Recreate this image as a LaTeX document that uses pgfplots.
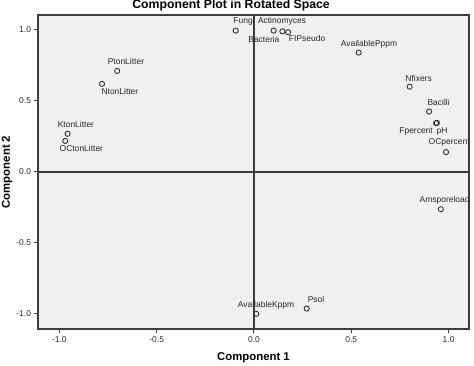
\documentclass[border=0pt]{standalone}
\usepackage{fontspec}
\setmainfont{Liberation Sans}
\usepackage{pgfplots}
\pgfplotsset{compat=1.18}
\definecolor{bgfill}{RGB}{240,240,240}
\definecolor{framec}{RGB}{60,60,60}
\definecolor{txtc}{RGB}{40,40,40}
\newcommand{\lab}{\fontsize{8.5}{10}\selectfont}
\begin{document}
\begin{tikzpicture}
\useasboundingbox (-38bp,-37bp) rectangle (436bp,329bp);
\begin{axis}[
  at={(0,0)}, anchor=south west,
  scale only axis, width=431bp, height=314bp,
  xmin=-1.11, xmax=1.105, ymin=-1.107, ymax=1.105,
  axis background/.style={fill=bgfill},
  axis line style={framec, line width=1.3bp},
  xtick={-1,-0.5,0,0.5,1}, ytick={-1,-0.5,0,0.5,1},
  tick pos=left, tick align=outside,
  major tick length=3.5bp,
  tick style={framec, line width=1bp},
  /pgf/number format/assume math mode=true,
  /pgf/number format/fixed, /pgf/number format/fixed zerofill,
  /pgf/number format/precision=1,
  ticklabel style={font=\lab, text=txtc},
  xticklabel style={yshift=-1bp},
  clip=false,
]
\addplot[framec, line width=1.3bp, forget plot] coordinates {(0,-1.107) (0,1.105)};
\addplot[framec, line width=1.3bp, forget plot] coordinates {(-1.11,0) (1.105,0)};
\addplot[only marks, mark=o, mark size=2.6pt, mark options={draw=black!80, line width=0.9bp}] coordinates {
(-0.094,0.995) (0.101,0.995) (0.146,0.990) (0.175,0.984)
(0.538,0.840) (-0.703,0.711) (-0.781,0.620) (0.800,0.600)
(0.900,0.425) (-0.958,0.268) (-0.970,0.218) (0.936,0.343)
(0.940,0.345) (0.987,0.139) (0.960,-0.263) (0.012,-1.000)
(0.271,-0.963)
};
\begin{scope}[every node/.style={font=\lab, text=txtc, inner sep=0pt}]
\node at (axis cs:-0.051,1.058) {Fungi};
\node at (axis cs:0.144,1.058) {Actinomyces};
\node at (axis cs:0.051,0.931) {Bacteria};
\node at (axis cs:0.273,0.937) {FIPseudo};
\node at (axis cs:0.591,0.899) {AvailablePppm};
\node at (axis cs:-0.658,0.775) {PtonLitter};
\node at (axis cs:-0.689,0.563) {NtonLitter};
\node at (axis cs:0.846,0.659) {Nfixers};
\node at (axis cs:0.949,0.488) {Bacilli};
\node at (axis cs:-0.915,0.331) {KtonLitter};
\node at (axis cs:-0.887,0.162) {OCtonLitter};
\node at (axis cs:0.833,0.284) {Fpercent};
\node at (axis cs:0.967,0.284) {pH};
\node at (axis cs:1.003,0.206) {OCpercent};
\node at (axis cs:0.980,-0.202) {Amsporeload};
\node at (axis cs:0.062,-0.937) {AvailableKppm};
\node at (axis cs:0.319,-0.899) {Psol};
\end{scope}
\node[font=\fontsize{12.3}{14}\selectfont\bfseries, anchor=base, text=black, inner sep=0pt] at ([yshift=6bp]rel axis cs:0.448,1) {Component Plot in Rotated Space};
\node[font=\fontsize{11.4}{13}\selectfont\bfseries, text=black, inner sep=0pt] at ([yshift=-29bp]rel axis cs:0.5,0) {Component 1};
\node[font=\fontsize{11.4}{13}\selectfont\bfseries, text=black, inner sep=0pt, rotate=90] at ([xshift=-31bp]rel axis cs:0,0.5) {Component 2};
\end{axis}
\end{tikzpicture}
\end{document}
